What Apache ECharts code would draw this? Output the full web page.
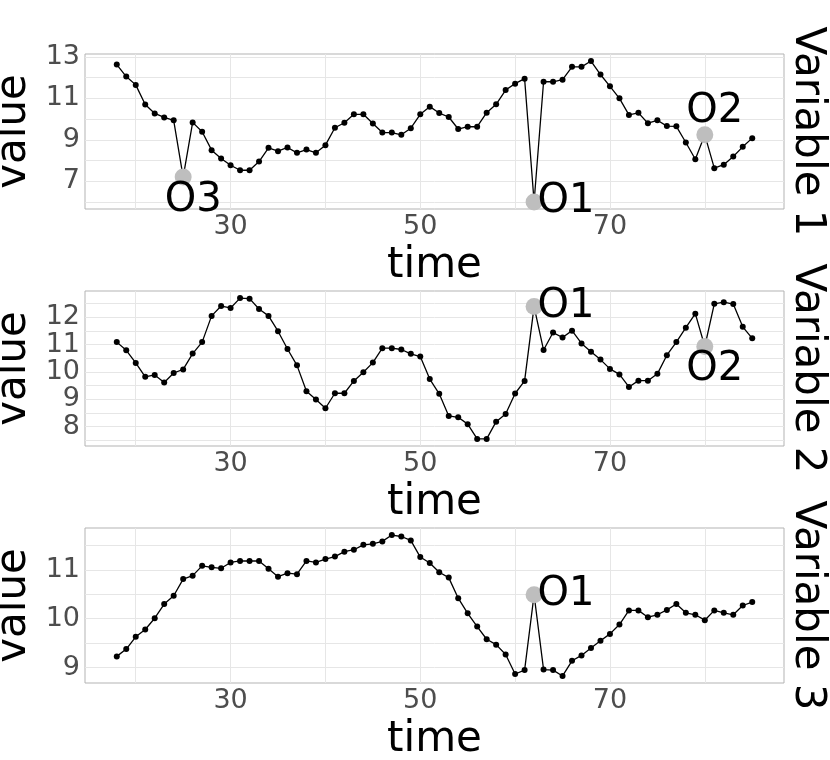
<!DOCTYPE html>
<html lang="en">
<head>
    <meta charset="UTF-8">
    <title>Variables</title>
    <style>body{margin:0;background:#fff}</style>
</head>
<body>
<div id="main" style="width: 830px;height:760px;"></div>
<script src="https://cdn.jsdelivr.net/npm/echarts@6/dist/echarts.min.js"></script>
<script type="text/javascript">
    // time 18..85
    var times = [];
    for (var t = 18; t <= 85; t++) times.push(t);

    var v1 = [12.63,12.05,11.65,10.7,10.27,10.08,9.94,7.2,9.84,9.39,8.5,8.1,7.77,7.53,7.53,7.95,8.61,8.45,8.63,8.37,8.53,8.37,8.74,9.58,9.82,10.23,10.23,9.79,9.35,9.35,9.24,9.56,10.23,10.6,10.29,10.1,9.52,9.63,9.63,10.31,10.71,11.4,11.71,11.95,6.0,11.8,11.8,11.9,12.52,12.52,12.8,12.15,11.58,11.0,10.2,10.3,9.8,9.94,9.66,9.65,8.87,8.06,9.24,7.63,7.8,8.19,8.66,9.08];
    var v2 = [11.09,10.79,10.33,9.82,9.89,9.61,9.96,10.09,10.67,11.09,12.05,12.41,12.34,12.7,12.68,12.3,12.05,11.49,10.84,10.24,9.29,8.99,8.67,9.22,9.22,9.67,9.99,10.34,10.87,10.87,10.82,10.66,10.56,9.74,9.2,8.39,8.34,8.09,7.55,7.55,8.18,8.46,9.21,9.67,12.39,10.8,11.44,11.26,11.51,11.04,10.74,10.45,10.11,9.91,9.45,9.68,9.68,9.93,10.61,11.09,11.62,12.13,10.93,12.49,12.55,12.48,11.65,11.23];
    var v3 = [9.23,9.38,9.63,9.78,10.01,10.3,10.47,10.81,10.88,11.08,11.05,11.03,11.15,11.18,11.18,11.18,11.02,10.86,10.93,10.91,11.18,11.15,11.22,11.27,11.37,11.41,11.51,11.53,11.58,11.71,11.68,11.6,11.26,11.14,10.95,10.84,10.42,10.11,9.84,9.58,9.47,9.27,8.87,8.95,10.49,8.96,8.95,8.83,9.14,9.25,9.4,9.55,9.69,9.88,10.17,10.17,10.03,10.08,10.18,10.3,10.12,10.08,9.97,10.17,10.12,10.08,10.27,10.34];

    // outliers: [panel, time, name, label position]
    var outliers = [
        [0, 25, 'O3', 'bottom'],
        [0, 62, 'O1', 'right'],
        [0, 80, 'O2', 'top'],
        [1, 62, 'O1', 'right'],
        [1, 80, 'O2', 'bottom'],
        [2, 62, 'O1', 'right']
    ];

    var panelNames = ['Variable 1', 'Variable 2', 'Variable 3'];
    var values = [v1, v2, v3];
    var yMin = [5.66, 7.29, 8.686];
    var yMax = [13.14, 12.96, 11.854];
    var yLabels = [[7, 9, 11, 13], [8, 9, 10, 11, 12], [9, 10, 11]];
    var yGrid = [[6, 7, 8, 9, 10, 11, 12, 13], [7.5, 8, 8.5, 9, 9.5, 10, 10.5, 11, 11.5, 12, 12.5],
                 [9, 9.5, 10, 10.5, 11, 11.5]];
    var xLabels = [30, 50, 70];
    var xGrid = [20, 30, 40, 50, 60, 70, 80];

    var tops = [54, 291, 528];
    var h = 155;

    var myChart = echarts.init(document.getElementById('main'));
    var grids = [], xAxes = [], yAxes = [], series = [], graphics = [];
    var labelOffsets = {
        'bottom': [10, -6], 'right': [-6, 0], 'top': [10, 6]
    };

    for (var p = 0; p < 3; p++) {
        grids.push({left: 85, top: tops[p], width: 699, height: h, show: true,
            containLabel: false, outerBoundsMode: 'none',
            borderColor: '#b3b3b3', borderWidth: 1, backgroundColor: '#fff'});
        xAxes.push({
            type: 'value', gridIndex: p, min: 14.65, max: 88.35,
            name: 'time', nameLocation: 'middle', nameGap: 36,
            nameTextStyle: {fontSize: 42, color: '#000', fontFamily: 'DejaVu Sans', verticalAlign: 'top'},
            axisLine: {show: false},
            axisTick: {show: false, customValues: xGrid},
            axisLabel: {customValues: xLabels, fontSize: 27, color: '#4d4d4d', margin: 4, fontFamily: 'DejaVu Sans'},
            splitLine: {show: true, lineStyle: {color: '#e6e6e6', width: 1}}
        });
        yAxes.push({
            type: 'value', gridIndex: p, min: yMin[p], max: yMax[p],
            name: 'value', nameLocation: 'middle', nameGap: 48,
            nameTextStyle: {fontSize: 42, color: '#000', fontFamily: 'DejaVu Sans'},
            axisLine: {show: false},
            axisTick: {show: false, customValues: yGrid[p]},
            axisLabel: {customValues: yLabels[p], fontSize: 27, color: '#4d4d4d', margin: 5, fontFamily: 'DejaVu Sans'},
            splitLine: {show: true, lineStyle: {color: '#e6e6e6', width: 1}}
        });
        var d = [];
        for (var i = 0; i < times.length; i++) d.push([times[i], values[p][i]]);
        series.push({
            type: 'line', xAxisIndex: p, yAxisIndex: p, data: d, z: 2,
            symbol: 'circle', symbolSize: 6, showSymbol: true,
            itemStyle: {color: '#000'}, lineStyle: {color: '#000', width: 1.3},
            silent: true, animation: false
        });
        var od = [];
        outliers.forEach(function (o) {
            if (o[0] !== p) return;
            var idx = times.indexOf(o[1]);
            od.push({value: [o[1], values[p][idx]], name: o[2],
                label: {position: o[3], offset: labelOffsets[o[3]]}});
        });
        series.push({
            type: 'scatter', xAxisIndex: p, yAxisIndex: p, data: od,
            symbolSize: 17, itemStyle: {color: '#bebebe', opacity: 1}, z: 10,
            label: {show: true, formatter: '{b}', fontSize: 40, color: '#000',
                fontFamily: 'DejaVu Sans', distance: 1},
            silent: true, animation: false
        });
        graphics.push({
            type: 'text', x: 807, y: tops[p] + h / 2, rotation: -Math.PI / 2,
            style: {text: panelNames[p], fontSize: 42, fill: '#000', fontFamily: 'DejaVu Sans',
                align: 'center', verticalAlign: 'middle'}
        });
    }

    myChart.setOption({
        animation: false,
        grid: grids, xAxis: xAxes, yAxis: yAxes, series: series, graphic: graphics
    });
</script>
</body>
</html>
